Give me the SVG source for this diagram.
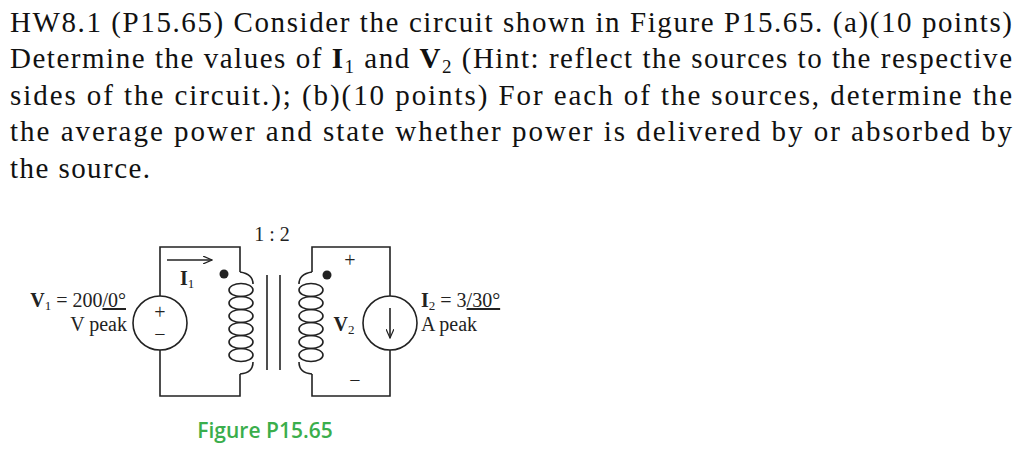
<svg xmlns="http://www.w3.org/2000/svg" width="1024" height="452" viewBox="0 0 1024 452">
<style>
.t{font-family:"Liberation Serif",serif;font-size:29px;fill:#111}
.c{font-family:"Liberation Serif",serif;font-size:20px;fill:#222}
.w{fill:none;stroke:#222;stroke-width:1.6}
</style>
<defs><marker id="ah" markerWidth="10" markerHeight="8" refX="9" refY="4" orient="auto" markerUnits="userSpaceOnUse"><path d="M0,0 L9,4 L0,8" fill="none" stroke="#222" stroke-width="1.2"/></marker></defs>
<rect width="1024" height="452" fill="#fff"/>
<g id="text">
<text class="t" x="10" y="32" textLength="1002" lengthAdjust="spacing">HW8.1 (P15.65) Consider the circuit shown in Figure P15.65. (a)(10 points)</text>
<text class="t" x="10" y="68" textLength="1002" lengthAdjust="spacing">Determine the values of <tspan font-weight="bold">I</tspan><tspan font-size="19" dy="5">1</tspan><tspan dy="-5"> and </tspan><tspan font-weight="bold">V</tspan><tspan font-size="19" dy="5">2</tspan><tspan dy="-5"> (Hint: reflect the sources to the respective</tspan></text>
<text class="t" x="10" y="105" textLength="1002" lengthAdjust="spacing">sides of the circuit.); (b)(10 points) For each of the sources, determine the</text>
<text class="t" x="10" y="141" textLength="1002" lengthAdjust="spacing">the average power and state whether power is delivered by or absorbed by</text>
<text class="t" x="10" y="178" textLength="140" lengthAdjust="spacing">the source.</text>
</g>
<g id="connectors">
<path class="w" d="M160,296 V247 H240 V272 M240,374 V396 H160 V350"/>
<path class="w" d="M390,296 V247 H312 V272 M312,374 V396 H390 V350"/>
<line class="w" x1="267" y1="275" x2="267" y2="370" stroke-width="2"/>
<line class="w" x1="280" y1="275" x2="280" y2="370" stroke-width="2"/>
<line class="w" x1="167" y1="260" x2="212" y2="260" stroke-width="1.2" marker-end="url(#ah)"/>
</g>
<g id="coil1" class="w">
<path d="M240,272 Q253,274 253,284"/>
<ellipse cx="241" cy="290" rx="12" ry="6.5"/><ellipse cx="241" cy="303" rx="12" ry="6.5"/><ellipse cx="241" cy="316" rx="12" ry="6.5"/><ellipse cx="241" cy="329" rx="12" ry="6.5"/><ellipse cx="241" cy="342" rx="12" ry="6.5"/><ellipse cx="241" cy="355" rx="12" ry="6.5"/>
<path d="M253,362 Q253,373 240,374"/>
</g>
<g id="coil2" class="w">
<path d="M312,272 Q299,274 299,284"/>
<ellipse cx="311" cy="290" rx="12" ry="6.5"/><ellipse cx="311" cy="303" rx="12" ry="6.5"/><ellipse cx="311" cy="316" rx="12" ry="6.5"/><ellipse cx="311" cy="329" rx="12" ry="6.5"/><ellipse cx="311" cy="342" rx="12" ry="6.5"/><ellipse cx="311" cy="355" rx="12" ry="6.5"/>
<path d="M299,362 Q299,373 312,374"/>
</g>
<g id="dots"><circle cx="224" cy="274" r="4.5" fill="#222"/><circle cx="327" cy="275" r="4.5" fill="#222"/></g>
<g id="V1">
<circle class="w" cx="160" cy="323" r="27"/>
<text class="c" x="160" y="319" text-anchor="middle">+</text>
<text class="c" x="160" y="341" text-anchor="middle">−</text>
<text class="c" x="126" y="307" text-anchor="end"><tspan font-weight="bold">V</tspan><tspan font-size="13" dy="3">1</tspan><tspan dy="-3"> = 200</tspan><tspan text-decoration="underline">/0°</tspan></text>
<text class="c" x="127" y="331" text-anchor="end">V peak</text>
</g>
<g id="I2">
<circle class="w" cx="390" cy="323" r="27"/>
<line class="w" x1="390" y1="308" x2="390" y2="338" stroke-width="1.2" marker-end="url(#ah)"/>
<text class="c" x="421" y="307"><tspan font-weight="bold">I</tspan><tspan font-size="13" dy="3">2</tspan><tspan dy="-3"> = 3</tspan><tspan text-decoration="underline">/30°</tspan></text>
<text class="c" x="421" y="331">A peak</text>
</g>
<g id="labels">
<text class="c" x="180" y="285"><tspan font-weight="bold">I</tspan><tspan font-size="13" dy="3">1</tspan></text>
<text class="c" x="272" y="241" text-anchor="middle">1 : 2</text>
<text class="c" x="350" y="267" text-anchor="middle">+</text>
<text class="c" x="355" y="387" text-anchor="middle">−</text>
<text class="c" x="344" y="331" text-anchor="middle"><tspan font-weight="bold">V</tspan><tspan font-size="13" dy="3">2</tspan></text>
<text x="265" y="438" text-anchor="middle" font-family="'Open Sans',sans-serif" font-size="21" font-weight="600" fill="#3aae4c">Figure P15.65</text>
</g>
</svg>
